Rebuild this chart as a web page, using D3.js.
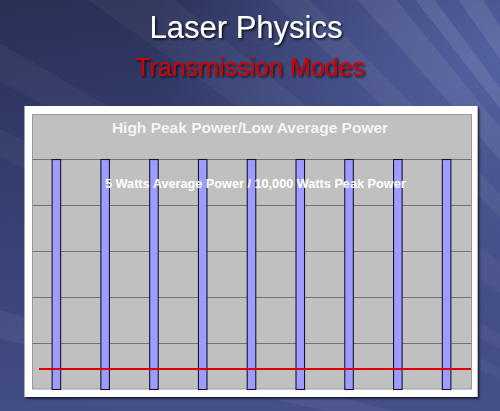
<!DOCTYPE html>
<html lang="en">

<head>
    <meta charset="UTF-8">
    <title>Laser Physics - Transmission Modes</title>
    <style>
        body {
            padding: 0;
            margin: 0;
            width: 500px;
            height: 411px;
            overflow: hidden;
            font-family: "Liberation Sans", Arial, sans-serif;
        }
    </style>
</head>

<body>
    <script src="https://d3js.org/d3.v7.min.js"></script>
    <script>
        // pulses (categories), peak power of each pulse, average power level
        const pulses = ['1', '2', '3', '4', '5', '6', '7', '8', '9'];
        const peakPower = [10000, 10000, 10000, 10000, 10000, 10000, 10000, 10000, 10000];
        const averagePower = [870];
        const powerTicks = [0, 2000, 4000, 6000, 8000, 10000];

        const width = 500;
        const height = 411;

        const svg = d3.select('body')
            .append('svg')
            .attr('width', width)
            .attr('height', height);

        const defs = svg.append('defs');
        // background: dark top-left, lighter towards bottom and top-right
        const bg = defs.append('linearGradient')
            .attr('id', 'bg')
            .attr('x1', '0.1').attr('y1', '0')
            .attr('x2', '0.3').attr('y2', '1');
        bg.append('stop').attr('offset', '0%').attr('stop-color', '#2a3056');
        bg.append('stop').attr('offset', '45%').attr('stop-color', '#363f70');
        bg.append('stop').attr('offset', '100%').attr('stop-color', '#444f88');

        const glow = defs.append('radialGradient')
            .attr('id', 'glow')
            .attr('cx', '1').attr('cy', '0.15').attr('r', '0.7');
        glow.append('stop').attr('offset', '0%').attr('stop-color', '#5866a8').attr('stop-opacity', 0.9);
        glow.append('stop').attr('offset', '100%').attr('stop-color', '#5866a8').attr('stop-opacity', 0);

        const shadow = defs.append('filter').attr('id', 'shadow')
            .attr('x', '-10%').attr('y', '-10%').attr('width', '130%').attr('height', '140%');
        shadow.append('feDropShadow')
            .attr('dx', 1.5).attr('dy', 1.5).attr('stdDeviation', 1)
            .attr('flood-color', '#000').attr('flood-opacity', 0.8);

        svg.append('rect')
            .attr('width', width)
            .attr('height', height)
            .attr('fill', 'url(#bg)');
        svg.append('rect')
            .attr('width', width)
            .attr('height', height)
            .attr('fill', 'url(#glow)');

        // diagonal streaks
        const focus = [820, 520];
        const streaks = [
            [[-40, 20], [-40, 60], 0.04],
            [[-40, 110], [-40, 140], 0.03],
            [[60, -20], [150, -20], 0.04],
            [[250, -20], [290, -20], 0.05],
            [[340, -20], [380, -20], 0.07],
            [[400, -20], [420, -20], 0.09],
            [[445, -20], [470, -20], 0.09],
            [[-40, 300], [-40, 330], 0.05]
        ];
        svg.append('g')
            .selectAll('path')
            .data(streaks)
            .join('path')
            .attr('d', d => `M${focus[0]},${focus[1]}L${d[0][0]},${d[0][1]}L${d[1][0]},${d[1][1]}Z`)
            .attr('fill', '#ffffff')
            .attr('opacity', d => d[2]);

        // titles
        svg.append('text')
            .attr('x', 246)
            .attr('y', 38)
            .attr('text-anchor', 'middle')
            .attr('font-size', 31)
            .attr('fill', '#ffffff')
            .attr('filter', 'url(#shadow)')
            .text('Laser Physics');

        svg.append('text')
            .attr('x', 250)
            .attr('y', 76)
            .attr('text-anchor', 'middle')
            .attr('font-size', 25)
            .attr('fill', '#d40000')
            .attr('filter', 'url(#shadow)')
            .text('Transmission Modes');

        // white panel and gray chart area
        svg.append('rect')
            .attr('x', 24.5)
            .attr('y', 106)
            .attr('width', 453)
            .attr('height', 291)
            .attr('fill', '#ffffff')
            .attr('filter', 'url(#shadow)');

        svg.append('rect')
            .attr('x', 32.5)
            .attr('y', 114.5)
            .attr('width', 439)
            .attr('height', 274.5)
            .attr('fill', '#c0c0c0')
            .attr('stroke', '#9a9a9a');

        svg.append('text')
            .attr('x', 250)
            .attr('y', 133)
            .attr('text-anchor', 'middle')
            .attr('font-size', 15.5)
            .attr('font-weight', 'bold')
            .attr('fill', '#f4f4f4')
            .text('High Peak Power/Low Average Power');

        // scales
        const x = d3.scaleBand()
            .domain(pulses)
            .range([32, 471])
            .paddingInner(0.825)
            .paddingOuter(0.4125);

        const y = d3.scaleLinear()
            .domain([0, 10000])
            .range([389, 159]);

        // gridlines
        svg.append('g')
            .selectAll('line')
            .data(powerTicks.filter(d => d > 0))
            .join('line')
            .attr('x1', 32.5)
            .attr('x2', 471.5)
            .attr('y1', d => Math.round(y(d)) + 0.5)
            .attr('y2', d => Math.round(y(d)) + 0.5)
            .attr('stroke', '#737373')
            .attr('stroke-width', 1);

        // pulses
        svg.append('g')
            .selectAll('rect')
            .data(pulses.map((p, i) => ({ pulse: p, value: peakPower[i] })))
            .join('rect')
            .attr('x', d => x(d.pulse))
            .attr('y', d => y(d.value) + 0.5)
            .attr('width', x.bandwidth())
            .attr('height', d => y(0) - y(d.value))
            .attr('fill', '#9d9dff')
            .attr('stroke', '#15152c')
            .attr('stroke-width', 1.1);

        // average power line
        svg.append('g')
            .selectAll('line')
            .data(averagePower)
            .join('line')
            .attr('x1', x.range()[0] + 7)
            .attr('x2', x.range()[1])
            .attr('y1', d => y(d))
            .attr('y2', d => y(d))
            .attr('stroke', '#dd0000')
            .attr('stroke-width', 2.2);

        svg.append('text')
            .attr('x', 105)
            .attr('y', 187.5)
            .attr('font-size', 12.7)
            .attr('font-weight', 'bold')
            .attr('fill', '#ffffff')
            .text('5 Watts Average Power / 10,000 Watts Peak Power');
    </script>

</body>

</html>
